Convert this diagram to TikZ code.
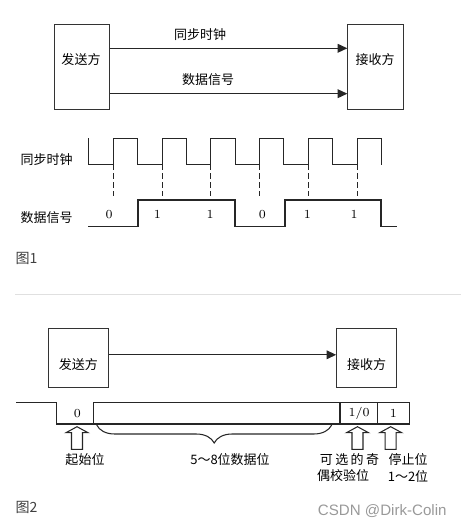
\documentclass[tikz,border=0pt]{standalone}
\usepackage{fontspec}
\newfontfamily\cjkfont{Noto Sans CJK SC}   % 中文标签字体
\newfontfamily\cjkwide[LetterSpace=18]{Noto Sans CJK SC} % 字距稍宽的中文
\newfontfamily\wmfont{Liberation Sans}     % 水印字体
\usetikzlibrary{
  arrows.meta,              % 实心三角箭头
  calc,                     % 坐标计算
  decorations.pathreplacing,% 大括号装饰
  positioning               % 节点相对定位
}

\begin{document}
\begin{tikzpicture}[x=0.02cm, y=-0.02cm, line width=0.6pt, % 以像素为单位，y 轴向下
  box/.style={draw=black!80, inner sep=0pt},
  lbl/.style={font=\cjkfont\fontsize{7.4}{9}\selectfont, inner sep=0pt},
  bit/.style={font=\fontsize{7}{8}\selectfont, inner sep=0pt},
  arr/.style={draw=black!85, -{Triangle[length=5.5pt,width=5pt]}},
  wave/.style={draw=black!85},
  bitarrow/.pic={\draw[black!85] (0,0) -- (11,6) -- (5.5,6) -- (5.5,22.6) -- (-5.5,22.6) -- (-5.5,6) -- (-11,6) -- cycle;}
]
  \useasboundingbox (0,0) rectangle (461,526); % 固定画面大小

  % 图1：同步传输
  \begin{scope}
    \node[box, minimum width=1.106cm, minimum height=1.694cm] (send) at (82.3,66.7) {}; % 发送方方框
    \node[box, minimum width=1.106cm, minimum height=1.694cm] (recv) at (375.5,66.7) {}; % 接收方方框
    \node[lbl] (sendtxt) at (81,60) {发送方};
    \node[lbl] (recvtxt) at (375,60) {接收方};

    \draw[arr] ([yshift=0.368cm]send.east) -- ([yshift=0.368cm]recv.west); % 时钟线
    \draw[arr] ([yshift=-0.54cm]send.east) -- ([yshift=-0.54cm]recv.west); % 数据线
    \node[lbl] (clktxt) at (200,35) {同步时钟};
    \node[lbl] (dattxt) at (208,80) {数据信号};

    % 波形
    \node[lbl] (clkname) at (46.7,160) {同步时钟};
    \node[lbl] (datname) at (46.7,217.7) {数据信号};
    \draw[wave] (88.3,138.3) -- (88.3,164.7)
      \foreach \k in {0,...,5} {
        -- ({113.3+48.8*\k},164.7) -- ({113.3+48.8*\k},138.3)
        -- ({137.5+48.8*\k},138.3) -- ({137.5+48.8*\k},164.7)
      }; % 时钟方波
    \foreach \k in {0,...,5}
      \draw[wave, dashed, dash pattern=on 3pt off 2pt] ({113.3+48.8*\k},164.7) -- ({113.3+48.8*\k},196); % 上升沿采样虚线
    \draw[wave] (88.3,226.7) -- (138,226.7) -- (138,200) -- (235,200) -- (235,226.7)
      -- (285,226.7) -- (285,200) -- (381,200) -- (381,226.7) -- (396.7,226.7); % 数据波形
    \foreach \x/\b [count=\i] in {109/0,157.3/1,210/1,262.3/0,307.3/1,354/1}
      \node[bit] (bit\i) at (\x,214.3) {\b};

    \node[font=\cjkfont\fontsize{8}{10}\selectfont, text=black!75, anchor=west, inner sep=0pt] (fig1) at (15,258.3) {图1};
  \end{scope}

  \draw[black!12] (15,294.3) -- (461,294.3); % 分隔线

  % 图2：异步传输
  \begin{scope}
    \node[box, minimum width=1.2cm, minimum height=1.18cm] (send2) at (78.3,357.8) {};
    \node[box, minimum width=1.2cm, minimum height=1.18cm] (recv2) at (366.7,357.8) {};
    \node[lbl] (send2txt) at (78.3,365) {发送方};
    \node[lbl] (recv2txt) at (366.7,365) {接收方};
    \draw[arr] ([yshift=0.06cm]send2.east) -- ([yshift=0.06cm]recv2.west);

    % 帧格式
    \draw[wave] (16,402.7) -- (56.7,402.7) -- (56.7,424) -- (409.3,424) -- (409.3,402.7)
      -- (93.3,402.7) -- (93.3,424);
    \draw[wave] (340,402.7) -- (340,424);
    \draw[wave] (377.3,402.7) -- (377.3,424);
    \node[bit] (startbit) at (77.3,413.3) {0};
    \node[bit] (paritybit) at (359,413.3) {1/0};
    \node[bit] (stopbit) at (393.3,413.3) {1};

    \pic (upA) at (77,426.7) {bitarrow};
    \pic (upB) at (357.5,426.7) {bitarrow};
    \pic (upC) at (390.7,426.7) {bitarrow};
    \draw[wave, decorate, decoration={brace, mirror, amplitude=0.36cm}] (96.7,425) -- (331.7,425); % 数据位大括号

    \node[lbl] (starttxt) at (85,460) {起始位};
    \node[lbl] (datatxt) at (230,460) {5～8位数据位};
    \node[lbl, font=\cjkwide\fontsize{7.4}{9}\selectfont] (paritytxt) at (349.5,460) {可选的奇};
    \node[lbl] (paritytxt2) at (343,476) {偶校验位};
    \node[lbl] (stoptxt) at (408,460) {停止位};
    \node[lbl] (stoptxt2) at (408,476) {1～2位};

    \node[font=\cjkfont\fontsize{8}{10}\selectfont, text=black!75, anchor=west, inner sep=0pt] (fig2) at (15,507.7) {图2};
    \node[font=\wmfont\fontsize{8.6}{10}\selectfont, text=black!40, inner sep=0pt] (mark) at (382.3,511) {CSDN @Dirk-Colin};
  \end{scope}
\end{tikzpicture}
\end{document}
